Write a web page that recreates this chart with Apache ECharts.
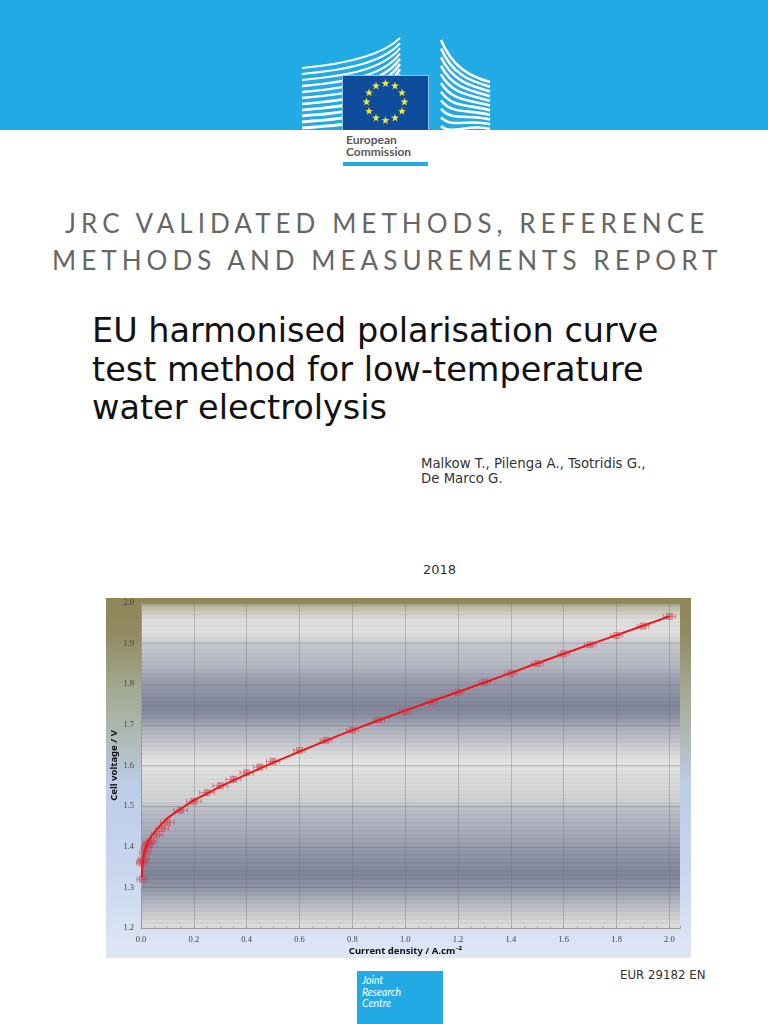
<!DOCTYPE html>
<html>
<head>
<meta charset="utf-8">
<title>EU harmonised polarisation curve test method</title>
<script src="https://cdn.jsdelivr.net/npm/echarts@6/dist/echarts.min.js"></script>
<style>
html, body { margin: 0; padding: 0; background: #fff; }
#page { position: relative; width: 768px; height: 1024px; overflow: hidden; background: #fff; }
#band { position: absolute; left: 0; top: 0; width: 768px; height: 130px; background: #22aae5; }
#logo { position: absolute; left: 0; top: 0; }
.txt { position: absolute; white-space: nowrap; }
.series { color: #666; font-family: Lato, "Open Sans", sans-serif; font-size: 26px; letter-spacing: 5.05px; }
.title { left: 92px; color: #111; font-family: "DejaVu Sans", sans-serif; font-size: 33.5px; line-height: 38.5px; }
.small { color: #333; font-family: "DejaVu Sans", sans-serif; line-height: 15px; }
.ec { left: 346px; color: #5a5a5a; font-family: Lato, sans-serif; font-size: 12px; line-height: 12px; font-weight: bold; }
#ecbar { position: absolute; left: 343px; top: 162px; width: 85px; height: 4px; background: #22aae5; }
#jrc { position: absolute; left: 357px; top: 971px; width: 86px; height: 53px; background: #22aae5; }
#jrc div { position: absolute; left: 5px; top: 4px; color: #fff; font-family: Lato, sans-serif; font-style: italic; font-size: 10.5px; line-height: 11.5px; }
#chart { position: absolute; left: 106px; top: 598px; width: 585px; height: 360px; }
</style>
</head>
<body>
<div id="page">
  <div id="band"></div>
  <svg id="logo" width="768" height="180"></svg>
  <div id="ecbar"></div>
  <div class="txt ec" style="top:134px">European<br>Commission</div>
  <div class="txt series" style="left:65px;top:207px">JRC VALIDATED METHODS, REFERENCE</div>
  <div class="txt series" style="left:52px;top:244px">METHODS AND MEASUREMENTS REPORT</div>
  <div class="txt title" style="top:312px">EU harmonised polarisation curve<br>test method for low-temperature<br>water electrolysis</div>
  <div class="txt small" style="left:421px;top:456px;font-size:13.3px">Malkow T., Pilenga A., Tsotridis G.,<br>De Marco G.</div>
  <div class="txt small" style="left:423px;top:562px;font-size:13px">2018</div>
  <div id="chart"></div>
  <div class="txt small" style="left:620px;top:968px;font-size:11.8px">EUR 29182 EN</div>
  <div id="jrc"><div>Joint<br>Research<br>Centre</div></div>
</div>
<script>
//坐标轴刻度
var xTicks = ["0.0", "0.2", "0.4", "0.6", "0.8", "1.0", "1.2", "1.4", "1.6", "1.8", "2.0"];
var yTicks = ["1.2", "1.3", "1.4", "1.5", "1.6", "1.7", "1.8", "1.9", "2.0"];

//测量点（电流密度 / 电压 / 误差）
var pointX = [0.005, 0.003, 0.006, 0.01, 0.015, 0.02, 0.025, 0.03, 0.04, 0.06, 0.08, 0.1, 0.15, 0.2, 0.25, 0.3, 0.35, 0.4, 0.45, 0.5, 0.6, 0.7, 0.8, 0.9, 1.0, 1.1, 1.2, 1.3, 1.4, 1.5, 1.6, 1.7, 1.8, 1.9, 2.0];
var pointY = [1.32, 1.36, 1.365, 1.37, 1.385, 1.395, 1.405, 1.41, 1.415, 1.43, 1.445, 1.46, 1.49, 1.512, 1.533, 1.55, 1.566, 1.582, 1.596, 1.61, 1.637, 1.662, 1.687, 1.712, 1.733, 1.757, 1.78, 1.805, 1.827, 1.851, 1.875, 1.897, 1.92, 1.943, 1.967];
var errX = [0.02, 0.02, 0.02, 0.02, 0.02, 0.02, 0.02, 0.02, 0.02, 0.022, 0.024, 0.026, 0.026, 0.028, 0.028, 0.028, 0.028, 0.025, 0.025, 0.025, 0.022, 0.022, 0.022, 0.022, 0.022, 0.022, 0.022, 0.022, 0.022, 0.022, 0.022, 0.022, 0.022, 0.022, 0.022];
var errY = [0.002, 0.008, 0.008, 0.008, 0.008, 0.008, 0.008, 0.008, 0.008, 0.008, 0.008, 0.008, 0.008, 0.008, 0.008, 0.008, 0.008, 0.008, 0.006, 0.006, 0.006, 0.006, 0.005, 0.005, 0.005, 0.005, 0.005, 0.005, 0.005, 0.005, 0.005, 0.005, 0.005, 0.005, 0.005];

//拟合曲线
var fitX = [0.003, 0.005, 0.01, 0.02, 0.03, 0.04, 0.06, 0.08, 0.1, 0.15, 0.2, 0.25, 0.3, 0.4, 0.5, 0.6, 0.7, 0.8, 1.0, 1.2, 1.4, 1.6, 1.8, 2.0];
var fitY = [1.325, 1.35, 1.377, 1.402, 1.416, 1.427, 1.443, 1.457, 1.47, 1.493, 1.514, 1.531, 1.548, 1.578, 1.607, 1.634, 1.661, 1.687, 1.735, 1.781, 1.828, 1.875, 1.921, 1.967];

//绘图区的背景条纹
var plotShades = [
    [0, "#8d8a6e"], [0.006, "#b0ad95"], [0.022, "#c4c3b5"], [0.052, "#dcdcdc"], [0.092, "#dddddd"],
    [0.123, "#c6c8cf"], [0.197, "#b0b2bd"], [0.237, "#989cad"], [0.32, "#7d8296"], [0.351, "#8a8ea0"],
    [0.382, "#a8abb8"], [0.422, "#bcbec6"], [0.462, "#d4d5d6"], [0.492, "#e2e2e2"], [0.529, "#d8dad8"],
    [0.6, "#cfd1d1"], [0.631, "#babcc6"], [0.705, "#a5a8b6"], [0.766, "#8f94a6"], [0.837, "#7c8196"],
    [0.877, "#8f94a5"], [0.929, "#b6b8c0"], [0.982, "#d4d5d3"], [1, "#dcdcd8"]
];

function hexToRgb(hex) {
    return [1, 3, 5].map(function(i) { return parseInt(hex.substr(i, 2), 16); });
}

function buildStripes() {
    var stops = [], n = 162;
    for (var i = 0; i < n; i++) {
        var t = (i + 0.5) / n, k = 1;
        while (k < plotShades.length - 1 && plotShades[k][0] < t) k++;
        var a = plotShades[k - 1], b = plotShades[k];
        var f = b[0] > a[0] ? (t - a[0]) / (b[0] - a[0]) : 1;
        var ca = hexToRgb(a[1]), cb = hexToRgb(b[1]);
        var d = i % 2 == 0 ? 4 : -3;
        var c = ca.map(function(v, j) { return Math.round(v + (cb[j] - v) * f + d); });
        var color = "rgb(" + c.join(",") + ")";
        stops.push({ offset: i / n, color: color });
        stops.push({ offset: (i + 1) / n, color: color });
    }
    return stops;
}

//欧盟委员会标志
function drawLogo() {
    var s = "", i;
    for (i = 0; i < 11; i++) {
        var y0 = 68 + i * 6, y1 = 38 + i * 5.2;
        s += '<path d="M302 ' + y0 + ' C345 ' + (y0 - 4) + ' 382 ' + (y0 - 12 + i) + ' 400 ' + y1 + '" fill="none" stroke="#fff" stroke-width="' + (2 + i * 0.1) + '"/>';
    }
    for (i = 0; i < 11; i++) {
        var ry0 = 40 + i * 8.6, ry1 = 82 + i * 4.7;
        s += '<path d="M441 ' + ry0 + ' C452 ' + (ry0 + 26 - i * 1.6) + ' 468 ' + (ry1 - 6) + ' 490 ' + ry1 + '" fill="none" stroke="#fff" stroke-width="2.6"/>';
    }
    s += '<rect x="342" y="75" width="87" height="55" fill="#8fc4e6"/>';
    s += '<rect x="343" y="76" width="85" height="54" fill="#0f4c9c"/>';
    for (i = 0; i < 12; i++) {
        var a = i * Math.PI / 6, cx = 385.5 + 19 * Math.sin(a), cy = 102 - 18.5 * Math.cos(a), pts = [];
        for (var j = 0; j < 10; j++) {
            var r = j % 2 ? 1.7 : 4.2, b = j * Math.PI / 5;
            pts.push((cx + r * Math.sin(b)).toFixed(1) + "," + (cy - r * Math.cos(b)).toFixed(1));
        }
        s += '<polygon points="' + pts.join(" ") + '" fill="#f5e53a"/>';
    }
    document.getElementById("logo").innerHTML = s;
}
drawLogo();

var myChart = echarts.init(document.getElementById("chart"));
var markColor = "rgba(200,70,85,0.6)";

function renderErrorBar(params, api) {
    var x = api.value(0), y = api.value(1), ex = api.value(2), ey = api.value(3);
    var c = api.coord([x, y]), l = api.coord([x - ex, y]), r = api.coord([x + ex, y]);
    var t = api.coord([x, y + ey]), b = api.coord([x, y - ey]);
    var lineStyle = { stroke: markColor, lineWidth: 1 };
    var seg = function(x1, y1, x2, y2) {
        return { type: "line", shape: { x1: x1, y1: y1, x2: x2, y2: y2 }, style: lineStyle };
    };
    return {
        type: "group",
        children: [
            seg(l[0], c[1], r[0], c[1]),
            seg(l[0], c[1] - 2.5, l[0], c[1] + 2.5),
            seg(r[0], c[1] - 2.5, r[0], c[1] + 2.5),
            seg(c[0], t[1], c[0], b[1]),
            { type: "rect", shape: { x: c[0] - 3, y: c[1] - 3, width: 6, height: 6 }, style: { fill: "rgba(200,70,85,0.4)", stroke: markColor, lineWidth: 0.8 } }
        ]
    };
}

var tickFont = { color: "#444", fontFamily: "Liberation Serif", fontSize: 8.5 };

var option = {
    animation: false,
    backgroundColor: new echarts.graphic.LinearGradient(0, 0, 0, 1, [
        { offset: 0, color: "#8f8658" },
        { offset: 0.1, color: "#918a62" },
        { offset: 0.25, color: "#a3a98f" },
        { offset: 0.4, color: "#b0bcba" },
        { offset: 0.52, color: "#bccde8" },
        { offset: 0.75, color: "#c8d6ee" },
        { offset: 1, color: "#dfe7f5" }
    ]),
    grid: {
        show: true,
        left: 35,
        top: 5,
        width: 539,
        height: 325,
        borderWidth: 0,
        outerBoundsMode: "none",
        backgroundColor: new echarts.graphic.LinearGradient(0, 0, 0, 1, buildStripes())
    },
    xAxis: {
        type: "value",
        min: 0,
        max: 2.04,
        interval: 0.2,
        name: "Current density / A.cm\u207B\u00B2",
        nameLocation: "middle",
        nameMoveOverlap: false,
        nameGap: 18,
        nameTextStyle: { color: "#111", fontFamily: "Noto Sans", fontWeight: "bold", fontSize: 9.5, padding: [0, 10, 0, 0] },
        axisLine: { onZero: false, lineStyle: { color: "#9a9a9a" } },
        axisTick: { show: true, inside: true, length: 2, lineStyle: { color: "#999" } },
        minorTick: { show: true, splitNumber: 4, length: 1.5, lineStyle: { color: "#aaa" } },
        axisLabel: Object.assign({ margin: 7, showMaxLabel: false, formatter: function(v) {
            var i = Math.round(v / 0.2);
            return Math.abs(v - i * 0.2) < 1e-6 ? xTicks[i] : "";
        } }, tickFont),
        splitLine: { show: true, showMaxLine: false, lineStyle: { color: "rgba(110,110,110,0.35)", width: 1 } }
    },
    yAxis: {
        type: "value",
        min: 1.2,
        max: 2.0,
        interval: 0.1,
        name: "Cell voltage / V",
        nameLocation: "middle",
        nameMoveOverlap: false,
        nameGap: 22,
        nameTextStyle: { color: "#111", fontFamily: "Noto Sans", fontWeight: "bold", fontSize: 9.5 },
        axisLine: { onZero: false, lineStyle: { color: "#9a9a9a" } },
        axisTick: { show: false },
        axisLabel: Object.assign({ margin: 7, formatter: function(v) {
            return yTicks[Math.round((v - 1.2) * 10)];
        } }, tickFont),
        splitLine: { show: true, lineStyle: { color: "rgba(110,105,115,0.35)", width: 1 } }
    },
    series: [
        {
            name: "points",
            type: "custom",
            renderItem: renderErrorBar,
            encode: { x: 0, y: 1 },
            data: pointX.map(function(x, i) { return [x, pointY[i], errX[i], errY[i]]; }),
            z: 2
        },
        {
            name: "fit",
            type: "line",
            smooth: 0.3,
            showSymbol: false,
            lineStyle: { color: "#f01418", width: 2 },
            data: fitX.map(function(x, i) { return [x, fitY[i]]; }),
            z: 3
        }
    ]
};
myChart.setOption(option);
</script>
</body>
</html>
